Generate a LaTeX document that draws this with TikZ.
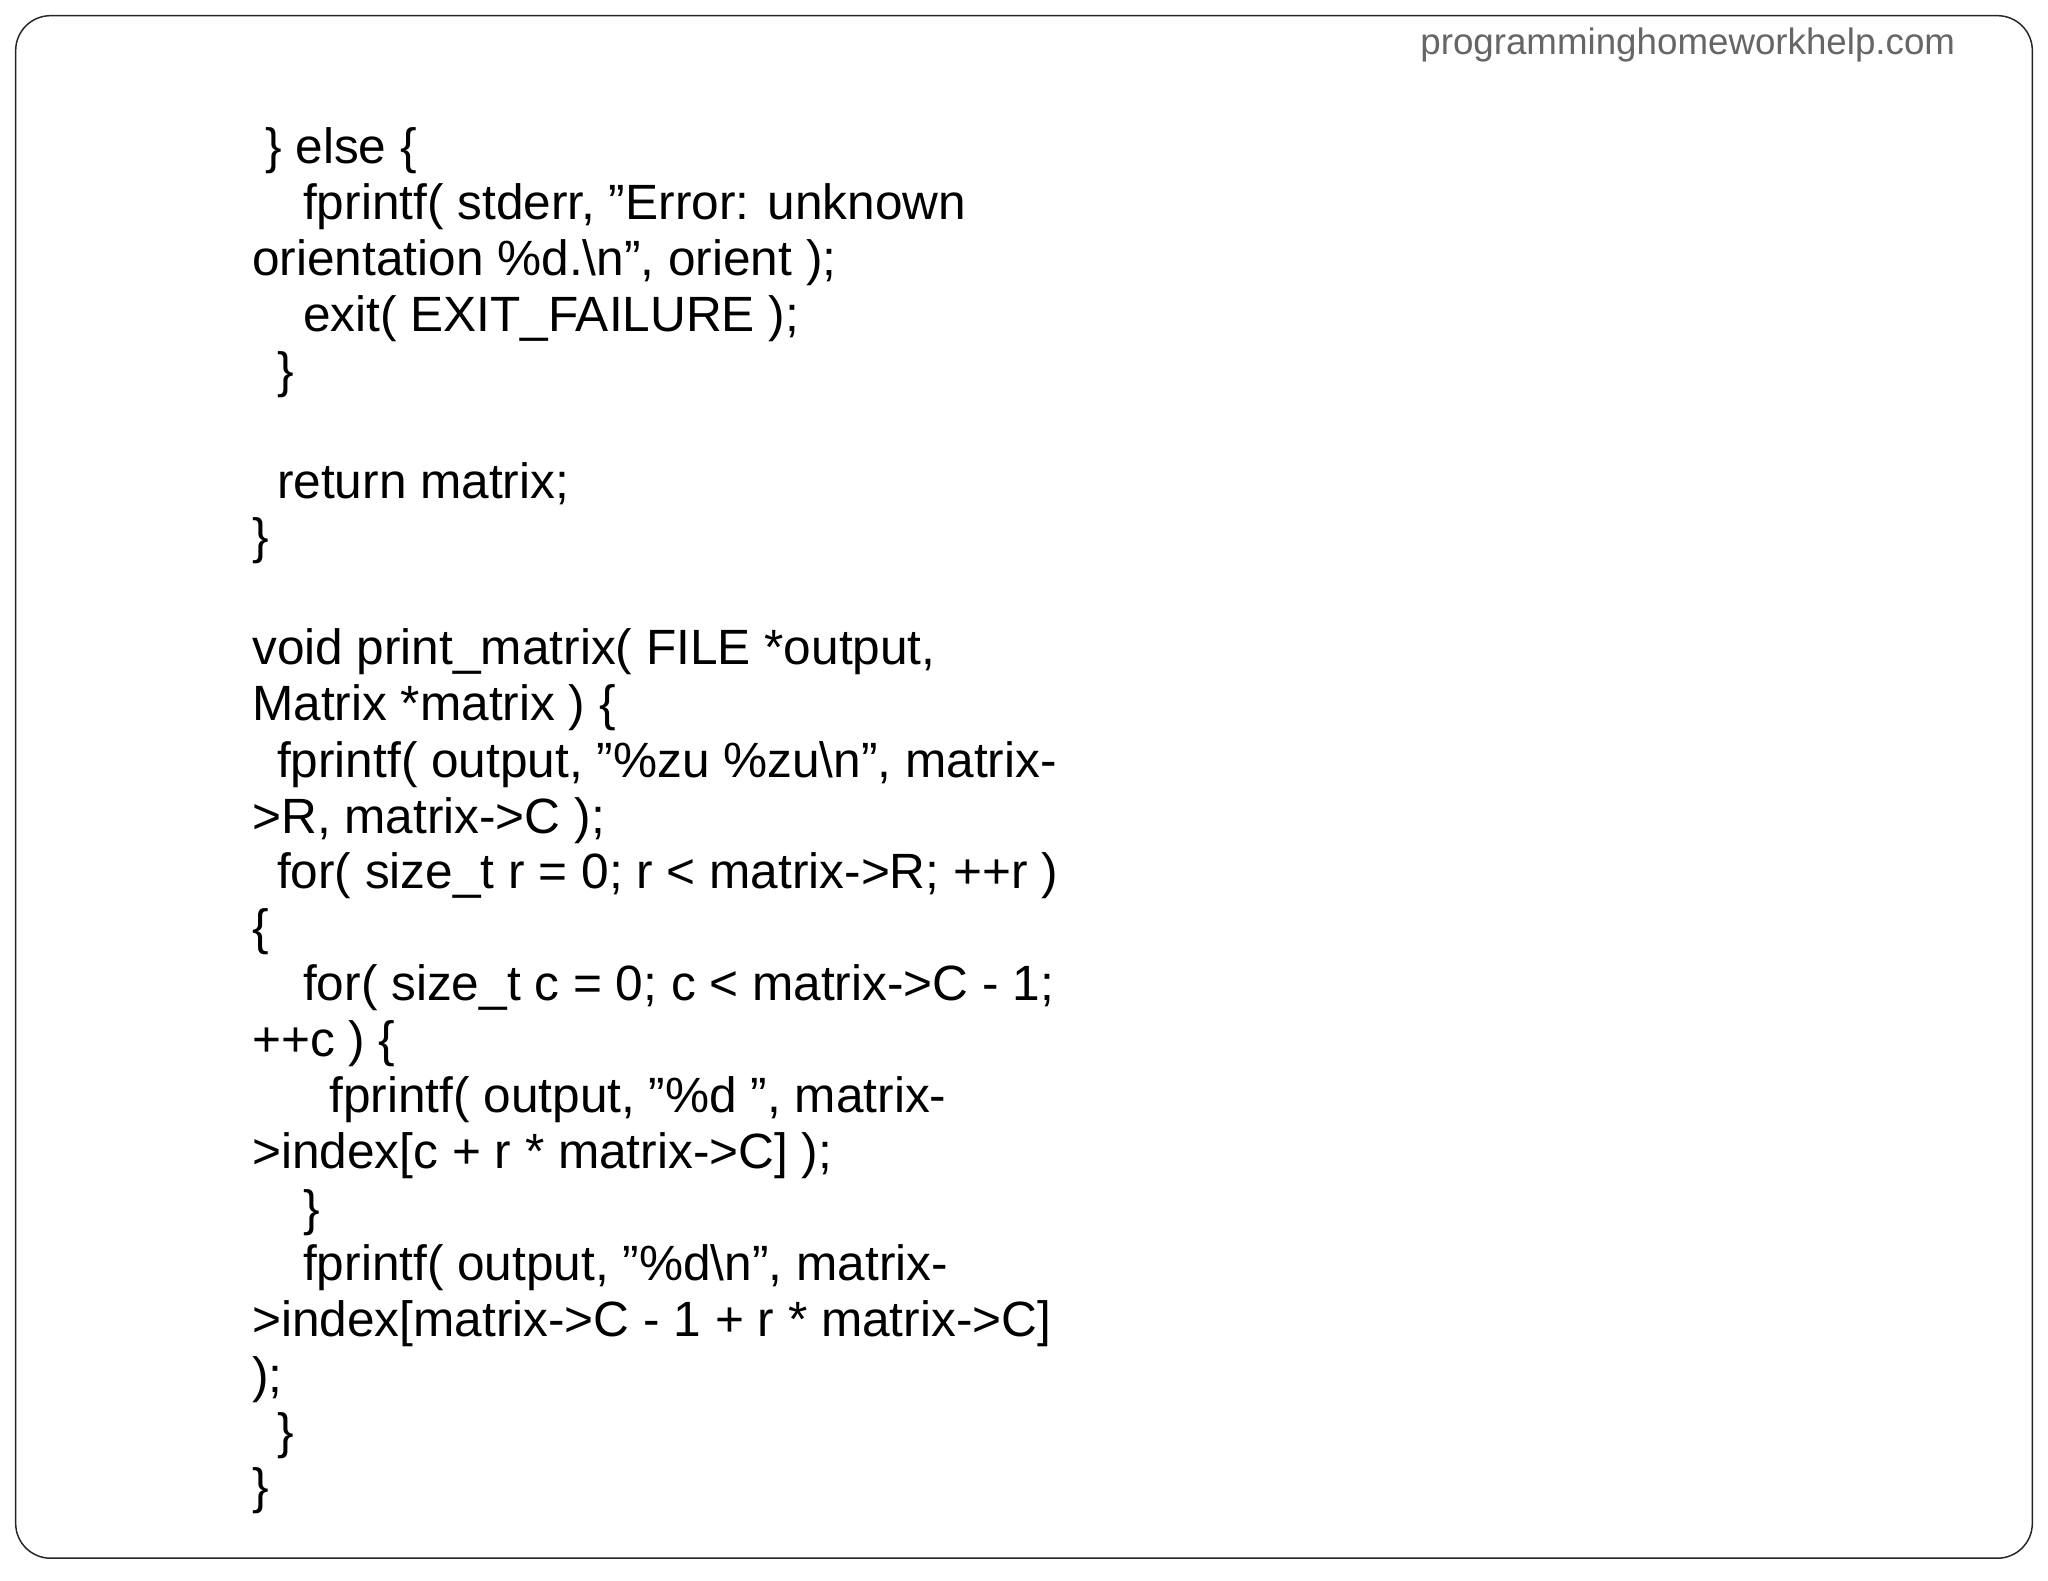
\documentclass[tikz,border=0pt]{standalone}
\usepackage{fontspec}
\setmainfont{Liberation Sans}
\begin{document}
\begin{tikzpicture}[x=0.05cm,y=-0.05cm,
  code/.style={anchor=base west,inner sep=0pt,font=\fontsize{54}{60}\selectfont},
  mark0/.style={}]
\useasboundingbox (0,0) rectangle (1568,1210);
\fill[white] (0,0) rectangle (1568,1210);
\draw[line width=1.6pt,rounded corners=38pt,black!85] (12,12) rectangle (1556,1193);
\node[anchor=base east,inner sep=0pt,text=black!60,font=\fontsize{40}{44}\selectfont] (wm) at (1497,42) {programminghomeworkhelp.com};
\foreach \x/\y/\t [count=\i] in {
203/125/{\} else \{},
232/168/{fprintf( stderr, "Error: unknown},
193/211/{orientation \%d.\textbackslash n", orient );},
232/254/{exit( EXIT\_FAILURE );},
212/297/{\}},
212/382/{return matrix;},
193/424/{\}},
193/509/{void print\_matrix( FILE *output,},
193/552/{Matrix *matrix ) \{},
212/595/{fprintf( output, "\%zu \%zu\textbackslash n", matrix-},
193/638/{>R, matrix->C );},
212/680/{for( size\_t r = 0; r < matrix->R; ++r )},
193/723/{\{},
232/766/{for( size\_t c = 0; c < matrix->C - 1;},
193/809/{++c ) \{},
252/852/{fprintf( output, "\%d ", matrix-},
193/895/{>index[c + r * matrix->C] );},
232/938/{\}},
232/980/{fprintf( output, "\%d\textbackslash n", matrix-},
193/1023/{>index[matrix->C - 1 + r * matrix->C]},
193/1066/{);},
212/1109/{\}},
193/1151/{\}}}
  \node[code] (l\i) at (\x,\y) {\t};
\end{tikzpicture}
\end{document}
